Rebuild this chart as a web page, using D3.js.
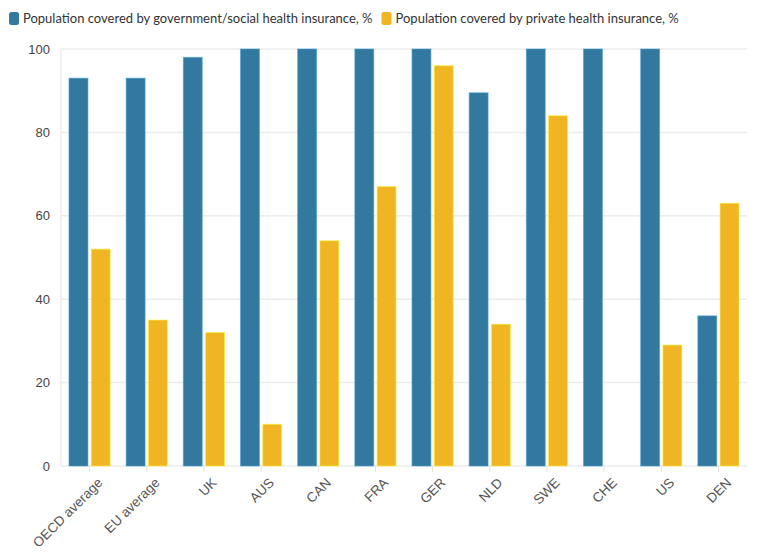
<!DOCTYPE html>
<html>
<head>
<meta charset="utf-8">
<script src="https://cdn.jsdelivr.net/npm/d3@7"></script>
<style>
  body { margin: 0; background: #fff; }
  svg { font-family: "Source Sans Pro", Lato, "Noto Sans", sans-serif; }
</style>
</head>
<body>
<svg width="768" height="555"></svg>
<script>
const countries = ['OECD average', 'EU average', 'UK', 'AUS', 'CAN', 'FRA', 'GER', 'NLD', 'SWE', 'CHE', 'US', 'DEN'];
const publicCover = [93, 93, 98, 100, 100, 100, 100, 89.5, 100, 100, 100, 36];
const privateCover = [52, 35, 32, 10, 54, 67, 96, 34, 84, null, 29, 63];
const seriesNames = ['Population covered by government/social health insurance, %', 'Population covered by private health insurance, %'];
const yTicks = [0, 20, 40, 60, 80, 100];

const colors = ['#32789f', '#f0b522'];

const svg = d3.select('svg');
const margin = {left: 61, right: 21, top: 49, bottom: 89};
const W = 768, H = 555;

const x = d3.scaleBand().domain(countries).range([margin.left, W - margin.right]).paddingInner(0).paddingOuter(0);
const xs = d3.scaleBand().domain([0, 1]).range([8, x.bandwidth() - 8]).paddingInner(0.15);
const y = d3.scaleLinear().domain([0, 100]).range([H - margin.bottom, margin.top]);

// grid
svg.append('g')
  .selectAll('line')
  .data(yTicks)
  .enter()
  .append('line')
  .attr('x1', margin.left).attr('x2', W - margin.right)
  .attr('y1', d => y(d)).attr('y2', d => y(d))
  .attr('stroke', '#ececec').attr('stroke-width', 1.5);

svg.append('line')
  .attr('x1', margin.left).attr('x2', margin.left)
  .attr('y1', y(100)).attr('y2', y(0))
  .attr('stroke', '#ececec').attr('stroke-width', 1.5);

// y axis
const yAxis = svg.append('g')
  .attr('transform', `translate(${margin.left},0)`)
  .call(d3.axisLeft(y).tickValues(yTicks).tickSize(0).tickPadding(11));
yAxis.select('.domain').remove();
yAxis.selectAll('text').attr('font-size', 13).attr('fill', '#444').style('font-family', 'inherit');

// x axis
const xAxis = svg.append('g')
  .attr('transform', `translate(0,${y(0)})`)
  .call(d3.axisBottom(x).tickSize(6).tickPadding(4));
xAxis.select('.domain').remove();
xAxis.selectAll('line').attr('stroke', '#e2e2e2');
xAxis.selectAll('text')
  .attr('font-size', 13.5).attr('fill', '#555').style('font-family', 'inherit')
  .attr('text-anchor', 'end')
  .attr('dx', '-0.2em').attr('dy', '0.9em')
  .attr('transform', 'rotate(-45)');

// bars
const rows = countries.map((c, i) => ({c, vals: [publicCover[i], privateCover[i]]}));
const groups = svg.append('g')
  .selectAll('g')
  .data(rows)
  .enter()
  .append('g')
  .attr('transform', d => `translate(${x(d.c)},0)`);

groups.selectAll('rect')
  .data(d => d.vals.map((v, k) => ({v, k})).filter(e => e.v != null))
  .enter()
  .append('rect')
  .attr('x', d => xs(d.k))
  .attr('width', xs.bandwidth())
  .attr('y', d => y(d.v))
  .attr('height', d => y(0) - y(d.v))
  .attr('fill', d => colors[d.k])
  .attr('stroke', d => d3.color(colors[d.k]).brighter(0.8))
  .attr('stroke-opacity', 0.6)
  .attr('stroke-width', 1);

// legend
const legend = svg.append('g').attr('transform', 'translate(9,12)');
let lx = 0;
seriesNames.forEach((name, i) => {
  const g = legend.append('g').attr('transform', `translate(${lx},0)`);
  g.append('rect').attr('width', 10).attr('height', 13).attr('rx', 2.5).attr('fill', colors[i]);
  const t = g.append('text').attr('x', 14).attr('y', 11).attr('font-size', 13).attr('fill', '#333').text(name);
  lx += 14 + t.node().getComputedTextLength() + 9;
});
</script>
</body>
</html>
